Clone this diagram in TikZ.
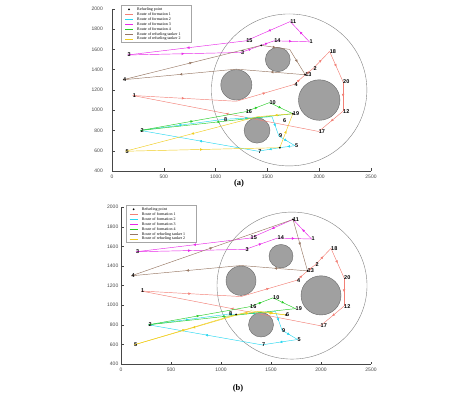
\documentclass[tikz,border=0pt]{standalone}
\usepackage{fontspec}
\setmainfont{Liberation Sans}
\newfontfamily\capfont{Liberation Serif}
\usetikzlibrary{arrows.meta,decorations.markings}

\definecolor{fone}{RGB}{242,128,118}
\definecolor{ftwo}{RGB}{40,215,240}
\definecolor{fthree}{RGB}{232,40,232}
\definecolor{ffour}{RGB}{40,205,40}
\definecolor{tone}{RGB}{150,118,98}
\definecolor{ttwo}{RGB}{240,205,30}
\definecolor{axisgray}{RGB}{70,70,70}
\definecolor{obst}{RGB}{160,160,160}

\tikzset{
  route/.style={color=#1, line width=0.45pt, postaction={decorate},
    decoration={markings, mark=at position 0.5 with {\arrow{Triangle[length=2.6pt,width=2.4pt]}}}},
  ptlab/.style={anchor=west, inner sep=0pt, font=\fontsize{5.5}{5.5}\selectfont\bfseries},
  ticklab/.style={inner sep=0pt, text=axisgray, font=\fontsize{5}{5}\selectfont},
  leglab/.style={anchor=west, inner sep=0pt, font=\capfont\fontsize{4}{4}\selectfont},
  obstacle/.style={fill=obst, draw=gray!80!black, line width=0.4pt},
  refuel/.style={circle, fill=black, inner sep=0pt, minimum size=2pt},
  caplab/.style={font=\capfont\bfseries\fontsize{8.5}{8.5}\selectfont},
}

% axes of one panel, #1 = gap of the y labels
\newcommand{\drawaxes}[1]{%
  \draw[axisgray, line width=0.4pt] (0,2000) -- (0,400) -- (2500,400);
  \foreach \x in {0,500,...,2500} {
    \draw[axisgray, line width=0.4pt] (\x,400) -- (\x,425);
    \node[ticklab, anchor=north] at ([yshift=-4pt]\x,400) {\x};
  }
  \foreach \y in {400,600,...,2000} {
    \draw[axisgray, line width=0.4pt] (0,\y) -- (25,\y);
    \node[ticklab, anchor=east] at ([xshift=-#1]0,\y) {\y};
  }
}

% threat zone, obstacles and task points
\newcommand{\drawmap}{%
  \draw[gray, line width=0.4pt] (1710,1200) circle [radius=750];
  \draw[obstacle] (1200,1250) circle [radius=150];
  \draw[obstacle] (1600,1500) circle [radius=120];
  \draw[obstacle] (2000,1100) circle [radius=200];
  \draw[obstacle] (1400,800) circle [radius=125];
  \coordinate (s1) at (200,1145);
  \coordinate (s2) at (275,800);
  \coordinate (s3) at (150,1545);
  \coordinate (s4) at (105,1300);
  \coordinate (s5) at (130,595);
  \coordinate (p1) at (1905,1675);
  \coordinate (p2) at (1945,1415);
  \coordinate (p3) at (1245,1570);
  \coordinate (p4) at (1760,1255);
  \coordinate (p5) at (1765,650);
  \coordinate (p6) at (1650,900);
  \coordinate (p7) at (1410,595);
  \coordinate (p8) at (1080,910);
  \coordinate (p9) at (1610,745);
  \coordinate (p10) at (1520,1075);
  \coordinate (p11) at (1720,1875);
  \coordinate (p12) at (2230,990);
  \coordinate (p13) at (1865,1350);
  \coordinate (p14) at (1565,1685);
  \coordinate (p15) at (1295,1685);
  \coordinate (p16) at (1290,985);
  \coordinate (p17) at (1995,790);
  \coordinate (p18) at (2100,1580);
  \coordinate (p19) at (1745,965);
  \coordinate (p20) at (2230,1280);
  % bends round the obstacles
  \coordinate (wa) at (1200,1088);
  \coordinate (wb) at (1545,935);
  \coordinate (wd) at (1200,1405);
}

\newcommand{\drawlabels}{%
  \foreach \n in {1,...,20} \node[ptlab] (lab\n) at (p\n) {\n};
  \foreach \n in {1,...,5} \node[ptlab] (slab\n) at (s\n) {\n};
}

\newcommand{\drawlegend}{%
  \draw[gray!70, line width=0.3pt, fill=white] (0,0) rectangle (70,-37);
  \node[refuel] (lgdot) at (8,-4.3) {};
  \node[leglab] (lg0) at (16,-4.3) {Refueling point};
  \foreach \col/\lbl [count=\i] in {fone/formation 1, ftwo/formation 2, fthree/formation 3,
      ffour/formation 4, tone/refueling tanker 1, ttwo/refueling tanker 2} {
    \draw[\col, line width=0.45pt] (4,-4.3-4.95*\i) -- (12,-4.3-4.95*\i);
    \node[leglab] (lg\i) at (16,-4.3-4.95*\i) {Route of \lbl};
  }
}

\begin{document}
\begin{tikzpicture}
\useasboundingbox (0pt,0pt) rectangle (474pt,395pt);

% panel (a)
\begin{scope}[shift={(112pt,183.5pt)}, x=0.1036pt, y=0.1013pt]
\drawaxes{9pt}
\drawmap
\coordinate (r1) at (1440,1640);
\coordinate (r2) at (1620,630);
\coordinate (wc) at (1715,1600);
\coordinate (we) at (1400,935);
\foreach \a/\b in {s1/wa, wa/p4, p4/p13, p13/p2, p2/p18, p18/p20, p20/p12, p12/p17, p17/s1}
  \draw[route=fone] (\a) -- (\b);
\foreach \a/\b in {s2/p8, p8/wb, wb/p9, p9/p5, p5/r2, r2/p7, p7/s2}
  \draw[route=ftwo] (\a) -- (\b);
\foreach \a/\b in {s3/p3, p3/r1, r1/p14, p14/p1, p1/p11, p11/p15, p15/s3}
  \draw[route=fthree] (\a) -- (\b);
\foreach \a/\b in {s2/p16, p16/p10, p10/p19, p19/s2}
  \draw[route=ffour] (\a) -- (\b);
\foreach \a/\b in {s4/r1, r1/wc, wc/p13, p13/wd, wd/s4}
  \draw[route=tone] (\a) -- (\b);
\foreach \a/\b in {s5/r2, r2/p19, p19/we, we/s5}
  \draw[route=ttwo] (\a) -- (\b);
\foreach \m in {r1,r2,p13,p19} \node[refuel] (m\m) at (\m) {};
\drawlabels
\end{scope}
\begin{scope}[shift={(121pt,390pt)}, x=1pt, y=1pt]
\drawlegend
\end{scope}
\node[caplab] (capa) at (239pt,212pt) {(a)};

% panel (b)
\begin{scope}[shift={(121pt,-8.2pt)}, x=0.1pt, y=0.098pt]
\drawaxes{2.5pt}
\drawmap
\coordinate (r3) at (1150,905);
\coordinate (we) at (1400,935);
\coordinate (wh) at (1300,942);
\foreach \a/\b in {s1/wa, wa/p4, p4/p13, p13/p2, p2/p18, p18/p20, p20/p12, p12/p17, p17/s1}
  \draw[route=fone] (\a) -- (\b);
\foreach \a/\b in {s2/p8, p8/r3, r3/wb, wb/p9, p9/p5, p5/p7, p7/s2}
  \draw[route=ftwo] (\a) -- (\b);
\foreach \a/\b in {s3/p3, p3/p14, p14/p1, p1/p11, p11/p15, p15/s3}
  \draw[route=fthree] (\a) -- (\b);
\foreach \a/\b in {s2/p16, p16/p10, p10/p19, p19/s2}
  \draw[route=ffour] (\a) -- (\b);
\foreach \a/\b in {s4/p11, p11/p13, p13/wd, wd/s4}
  \draw[route=tone] (\a) -- (\b);
\foreach \a/\b in {s5/r3, r3/we, we/p6, p6/wh, wh/s5}
  \draw[route=ttwo] (\a) -- (\b);
\foreach \m in {p11,p13,r3,p6} \node[refuel] (n\m) at (\m) {};
\drawlabels
\end{scope}
\begin{scope}[shift={(125.7pt,190pt)}, x=1pt, y=1pt]
\drawlegend
\end{scope}
\node[caplab] (capb) at (238pt,7pt) {(b)};
\end{tikzpicture}
\end{document}
